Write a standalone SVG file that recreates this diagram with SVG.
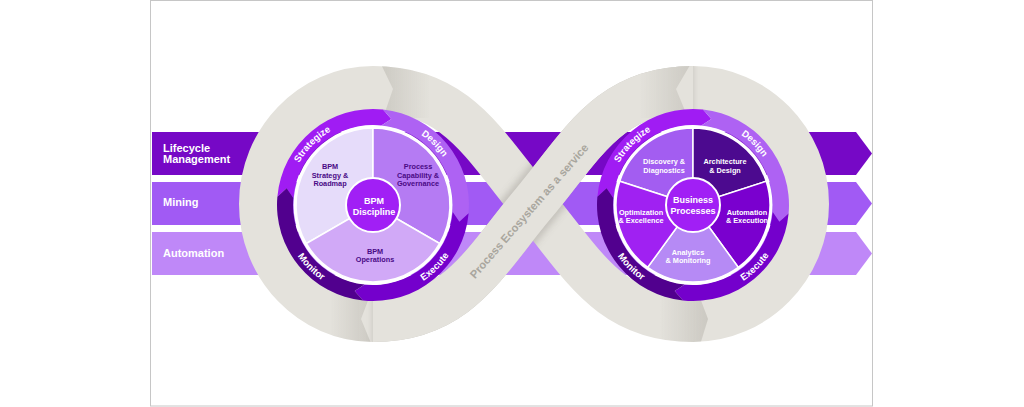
<svg xmlns="http://www.w3.org/2000/svg" width="1024" height="407" viewBox="0 0 1024 407">
<style>
.row-lbl{font-family:"Liberation Sans",Arial,sans-serif;font-weight:bold;font-size:11px;fill:#fff}
.ring-lbl{font-family:"Liberation Sans",Arial,sans-serif;font-weight:bold;font-size:9.5px;fill:#fff}
.seg{font-family:"Liberation Sans",Arial,sans-serif;font-weight:bold;font-size:7.3px;text-anchor:middle}
.seg-dark{fill:#4a0a86}
.seg-light{fill:#fff}
.core{font-family:"Liberation Sans",Arial,sans-serif;font-weight:bold;font-size:9px;fill:#fff;text-anchor:middle}
.eco{font-family:"Liberation Sans",Arial,sans-serif;font-weight:bold;font-size:11.3px;fill:#a9a69e;text-anchor:middle}
.band{fill:none;stroke:#e4e2dc;stroke-width:46}
.sep{stroke:#fff;stroke-width:1.5}
.r-str{fill:#a01cf3}.r-des{fill:#ae62f3}.r-exe{fill:#7400cc}.r-mon{fill:#51008e}
</style>
<defs>
  <mask id="bandMask" maskUnits="userSpaceOnUse" x="0" y="0" width="1024" height="407">
    <path d="M 533 204 C 485 147 458 89 373 89 C 312 89 262 140.5 262 204 C 262 267.5 312 319 373 319 C 458 319 485 261 533 204 C 581 147 608 89 693 89 C 755 89 806 140.5 806 204 C 806 267.5 755 319 693 319 C 608 319 581 261 533 204 Z" fill="none" stroke="#fff" stroke-width="46"/>
  </mask>
  <linearGradient id="shL2R" x1="0" y1="0" x2="1" y2="0">
    <stop offset="0" stop-color="#b3b0a8" stop-opacity="0.5"/>
    <stop offset="1" stop-color="#b3b0a8" stop-opacity="0"/>
  </linearGradient>
  <linearGradient id="shR2L" x1="0" y1="0" x2="1" y2="0">
    <stop offset="0" stop-color="#b3b0a8" stop-opacity="0"/>
    <stop offset="1" stop-color="#b3b0a8" stop-opacity="0.5"/>
  </linearGradient>
  <filter id="blur" x="-20%" y="-30%" width="140%" height="160%">
    <feGaussianBlur stdDeviation="3"/>
  </filter>
  <path id="arcTop" d="M -85 0 A 85 85 0 0 1 85 0"/>
  <path id="arcBot" d="M -91 0 A 91 91 0 0 0 91 0"/>
  <g id="ringSegs">
    <path class="r-str" d="M -95.63 -8.37 A 96 96 0 0 1 10.03 -95.47 L 18.30 -86.08 L 8.36 -79.56 A 80 80 0 0 0 -79.70 -6.97 L -86.38 -16.79 Z"/>
    <path class="r-des" d="M 10.03 -95.47 A 96 96 0 0 1 95.63 8.37 L 86.38 16.79 L 79.70 6.97 A 80 80 0 0 0 8.36 -79.56 L 18.30 -86.08 Z"/>
    <path class="r-exe" d="M 95.63 8.37 A 96 96 0 0 1 -10.03 95.47 L -18.30 86.08 L -8.36 79.56 A 80 80 0 0 0 79.70 6.97 L 86.38 16.79 Z"/>
    <path class="r-mon" d="M -10.03 95.47 A 96 96 0 0 1 -95.63 -8.37 L -86.38 -16.79 L -79.70 -6.97 A 80 80 0 0 0 -8.36 79.56 L -18.30 86.08 Z"/>
    <circle r="79.5" fill="#fff"/>
  </g>
</defs>

<rect x="150.5" y="0.5" width="722" height="405.5" fill="#fff" stroke="#c6c6c6"/>

<g id="row-lifecycle">
  <path d="M152 132 H856 L872 153.5 L856 175 H152 Z" fill="#7608c6"/>
  <text class="row-lbl" x="163" y="151.5">Lifecycle</text>
  <text class="row-lbl" x="163" y="163">Management</text>
</g>
<g id="row-mining">
  <path d="M152 182 H856 L872 203.5 L856 225 H152 Z" fill="#a15af4"/>
  <text class="row-lbl" x="163" y="206">Mining</text>
</g>
<g id="row-automation">
  <path d="M152 232 H856 L872 253.5 L856 275 H152 Z" fill="#bf88f8"/>
  <text class="row-lbl" x="163" y="257">Automation</text>
</g>

<g id="ecosystem-ribbon">
  <path class="band" d="M 533 204 C 485 147 458 89 373 89 C 312 89 262 140.5 262 204 C 262 267.5 312 319 373 319 C 458 319 485 261 533 204 C 581 147 608 89 693 89 C 755 89 806 140.5 806 204 C 806 267.5 755 319 693 319 C 608 319 581 261 533 204 Z"/>
  <g mask="url(#bandMask)">
    <polygon points="379,60 393,89 383,118 430,118 430,60" fill="url(#shL2R)"/>
    <polygon points="330,290 372,290 361,319 373,348 330,348" fill="url(#shR2L)"/>
    <polygon points="660,290 697,290 708,319 699,348 660,348" fill="url(#shR2L)"/>
    <path d="M 373 319 C 458 319 485 261 533 204 C 581 147 608 89 693 89" fill="none" stroke="#7d7a72" stroke-opacity="0.3" stroke-width="54" filter="url(#blur)"/>
  </g>
  <path class="band" d="M 373 319 C 458 319 485 261 533 204 C 581 147 608 89 693 89"/>
  <g mask="url(#bandMask)">
    <polygon points="640,60 693,60 676,89 688,118 640,118" fill="url(#shR2L)"/>
  </g>
  <text class="eco" transform="translate(529,211) rotate(-49)" x="0" y="4">Process Ecosystem as a service</text>
</g>

<g id="bpm-discipline" transform="translate(373,205)">
  <use href="#ringSegs"/>
  <path class="sep" fill="#e6dcfa" d="M0 0 L-66.68 38.5 A77 77 0 0 1 0 -77 Z"/>
  <path class="sep" fill="#b57bf3" d="M0 0 L0 -77 A77 77 0 0 1 66.68 38.5 Z"/>
  <path class="sep" fill="#d1a9f7" d="M0 0 L66.68 38.5 A77 77 0 0 1 -66.68 38.5 Z"/>
  <circle r="27" fill="#a11ff5" stroke="#fff" stroke-width="2"/>
  <text class="ring-lbl"><textPath href="#arcTop" startOffset="25%" text-anchor="middle">Strategize</textPath></text>
  <text class="ring-lbl"><textPath href="#arcTop" startOffset="75%" text-anchor="middle">Design</textPath></text>
  <text class="ring-lbl"><textPath href="#arcBot" startOffset="25%" text-anchor="middle">Monitor</textPath></text>
  <text class="ring-lbl"><textPath href="#arcBot" startOffset="75%" text-anchor="middle">Execute</textPath></text>
  <text class="seg seg-dark" x="-43" y="-36">BPM</text>
  <text class="seg seg-dark" x="-43" y="-27.5">Strategy &amp;</text>
  <text class="seg seg-dark" x="-43" y="-19">Roadmap</text>
  <text class="seg seg-dark" x="45" y="-36">Process</text>
  <text class="seg seg-dark" x="45" y="-27.5">Capability &amp;</text>
  <text class="seg seg-dark" x="45" y="-19">Governance</text>
  <text class="seg seg-dark" x="2" y="49">BPM</text>
  <text class="seg seg-dark" x="2" y="57">Operations</text>
  <text class="core" x="1" y="-1">BPM</text>
  <text class="core" x="1" y="9.5">Discipline</text>
</g>

<g id="business-processes" transform="translate(693,205)">
  <use href="#ringSegs"/>
  <path class="sep" fill="#a35df1" d="M0 0 L-73.23 -23.79 A77 77 0 0 1 0 -77 Z"/>
  <path class="sep" fill="#4c0a8f" d="M0 0 L0 -77 A77 77 0 0 1 73.23 -23.79 Z"/>
  <path class="sep" fill="#7a00cf" d="M0 0 L73.23 -23.79 A77 77 0 0 1 45.26 62.29 Z"/>
  <path class="sep" fill="#b68af5" d="M0 0 L45.26 62.29 A77 77 0 0 1 -45.26 62.29 Z"/>
  <path class="sep" fill="#a021f2" d="M0 0 L-45.26 62.29 A77 77 0 0 1 -73.23 -23.79 Z"/>
  <circle r="27" fill="#a11ff5" stroke="#fff" stroke-width="2"/>
  <text class="ring-lbl"><textPath href="#arcTop" startOffset="25%" text-anchor="middle">Strategize</textPath></text>
  <text class="ring-lbl"><textPath href="#arcTop" startOffset="75%" text-anchor="middle">Design</textPath></text>
  <text class="ring-lbl"><textPath href="#arcBot" startOffset="25%" text-anchor="middle">Monitor</textPath></text>
  <text class="ring-lbl"><textPath href="#arcBot" startOffset="75%" text-anchor="middle">Execute</textPath></text>
  <text class="seg seg-light" x="-29" y="-41">Discovery &amp;</text>
  <text class="seg seg-light" x="-29" y="-32.5">Diagnostics</text>
  <text class="seg seg-light" x="32" y="-41">Architecture</text>
  <text class="seg seg-light" x="32" y="-32.5">&amp; Design</text>
  <text class="seg seg-light" x="54" y="10">Automation</text>
  <text class="seg seg-light" x="54" y="18">&amp; Execution</text>
  <text class="seg seg-light" x="-5" y="50">Analytics</text>
  <text class="seg seg-light" x="-5" y="58">&amp; Monitoring</text>
  <text class="seg seg-light" x="-52" y="10">Optimization</text>
  <text class="seg seg-light" x="-52" y="18">&amp; Excellence</text>
  <text class="core" x="0" y="-2">Business</text>
  <text class="core" x="0" y="9">Processes</text>
</g>
</svg>
